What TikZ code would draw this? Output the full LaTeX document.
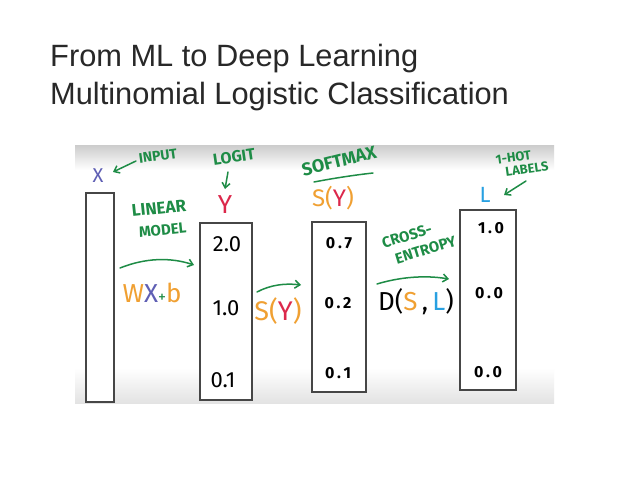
\documentclass[tikz,border=0pt]{standalone}
\usepackage{fontspec}
\setmainfont{Liberation Sans}
\newfontfamily\hand{Fira Sans}
\usetikzlibrary{arrows.meta}
\definecolor{titlegray}{RGB}{40,40,40}
\definecolor{hgreen}{RGB}{30,140,70}
\definecolor{hpurple}{RGB}{95,95,180}
\definecolor{hred}{RGB}{220,40,75}
\definecolor{horange}{RGB}{240,160,50}
\definecolor{hblue}{RGB}{40,160,225}
\definecolor{boxgray}{RGB}{70,70,70}
\begin{document}
\begin{tikzpicture}[x=1pt,y=-1pt,
  titletext/.style={anchor=base west,inner sep=0pt,text=titlegray,font=\fontsize{30.8}{36}\selectfont},
  vbox/.style={draw=boxgray,line width=1.6pt,inner sep=0pt,fill=white},
  lbl/.style={text=hgreen,inner sep=0pt,font=\hand\bfseries\fontsize{14}{16}\selectfont},
  num/.style={text=black,inner sep=0pt,font=\hand\fontsize{22}{24}\selectfont},
  smallnum/.style={text=black,inner sep=0pt,font=\hand\bfseries\fontsize{16}{18}\selectfont},
  big/.style={inner sep=0pt,font=\hand\fontsize{24}{28}\selectfont},
  harrow/.style={draw=hgreen,line width=1.5pt,line cap=round,-{Straight Barb[length=5pt,width=8pt]}},
  hline/.style={draw=hgreen,line width=1.5pt,line cap=round}]
\useasboundingbox (0,0) rectangle (638,479);
\fill[white] (0,0) rectangle (638,479);
% title
\node[titletext] (t1) at (50,66.7) {From ML to Deep Learning};
\node[titletext] (t2) at (50,104) {Multinomial Logistic Classification};
% panel
\fill[white] (75,145) rectangle (554,403);
\shade[top color=gray!40,bottom color=white] (75,145) rectangle (554,170);
\shade[top color=white,bottom color=gray!22] (75,368) rectangle (554,403);
% boxes
\node[vbox,minimum width=28pt,minimum height=209pt] (bx) at (100,297.5) {};
\node[vbox,minimum width=52pt,minimum height=177pt] (by) at (226,311.5) {};
\node[vbox,minimum width=54pt,minimum height=170pt] (bs) at (339,307) {};
\node[vbox,minimum width=56pt,minimum height=180pt] (bl) at (488,300) {};
% input
\node[big,text=hpurple,font=\hand\fontsize{20}{22}\selectfont] (x) at (98,176) {X};
\node[lbl,rotate=8,font=\hand\bfseries\fontsize{14}{16}\selectfont] (input) at (158,156) {INPUT};
\coordinate (inA) at (136,161);
\coordinate (inB) at (113,172);
\draw[harrow] (inA) -- (inB);
% logit
\node[lbl,rotate=8,font=\hand\bfseries\fontsize{16}{18}\selectfont] (logit) at (234,157) {LOGIT};
\coordinate (lgA) at (228,172);
\coordinate (lgB) at (225,189);
\draw[harrow] (lgA) -- (lgB);
\node[big,text=hred,font=\hand\fontsize{26}{28}\selectfont] (y) at (225,205) {Y};
% linear model
\node[lbl,rotate=6,align=left,font=\hand\bfseries\fontsize{17}{22}\selectfont] (linear) at (160,219) {LINEAR\\\hspace{5pt}\fontsize{15}{18}\selectfont MODEL};
\coordinate (lmA) at (120,268);
\coordinate (lmB) at (194,265);
\draw[harrow] (lmA) .. controls (145,258) and (170,257) .. (lmB);
\node[big,font=\hand\fontsize{26}{28}\selectfont] (wx) at (152,293) {\textcolor{horange}{W}\textcolor{hpurple}{X}\textcolor{hgreen}{\fontsize{16}{16}\selectfont+}\textcolor{horange}{b}};
% logit values
\node[num] (y1) at (227,244) {2.0};
\node[num] (y2) at (226,308) {1.0};
\node[num] (y3) at (223,380) {0.1};
% softmax small arrow
\coordinate (smA) at (257,292);
\coordinate (smB) at (301,285);
\draw[harrow] (smA) .. controls (270,285) and (285,283) .. (smB);
\node[big,font=\hand\fontsize{27}{30}\selectfont] (sy) at (278,311) {\textcolor{horange}{S(}\textcolor{hred}{Y}\textcolor{horange}{)}};
% softmax
\node[lbl,rotate=14,font=\hand\bfseries\fontsize{18}{21}\selectfont] (softmax) at (339,161) {SOFTMAX};
\coordinate (ulA) at (314,182);
\coordinate (ulB) at (373,173);
\draw[hline] (ulA) .. controls (335,178) and (355,175) .. (ulB);
\node[big,font=\hand\fontsize{24}{26}\selectfont] (sy2) at (333,198) {\textcolor{horange}{S(}\textcolor{hred}{Y}\textcolor{horange}{)}};
\node[smallnum] (s1) at (339,243) {0\,.\,7};
\node[smallnum] (s2) at (338,303) {0\,.\,2};
\node[smallnum] (s3) at (338,373) {0\,.\,1};
% cross entropy
\node[lbl,rotate=17,align=left,font=\hand\bfseries\fontsize{15}{19}\selectfont] (cross) at (419,242) {CROSS-\\\hspace{8pt}ENTROPY};
\coordinate (ceA) at (377,284);
\coordinate (ceB) at (449,279);
\draw[harrow] (ceA) .. controls (400,277) and (425,275) .. (ceB);
\node[big,font=\hand\fontsize{26}{30}\selectfont] (dsl) at (416,302) {D(\textcolor{horange}{S}\,,\,\textcolor{hblue}{L})};
% labels
\node[lbl,rotate=8,align=left,font=\hand\bfseries\fontsize{13}{14}\selectfont] (hot) at (522,163) {1-HOT\\\hspace{8pt}LABELS};
\coordinate (lbA) at (526,181);
\coordinate (lbB) at (504,195);
\draw[harrow] (lbA) -- (lbB);
\node[big,text=hblue,font=\hand\fontsize{22}{24}\selectfont] (l) at (485,195) {L};
\node[smallnum] (l1) at (491,228) {1\,.\,0};
\node[smallnum] (l2) at (489,293) {0\,.\,0};
\node[smallnum] (l3) at (488,372) {0\,.\,0};
\end{tikzpicture}
\end{document}
